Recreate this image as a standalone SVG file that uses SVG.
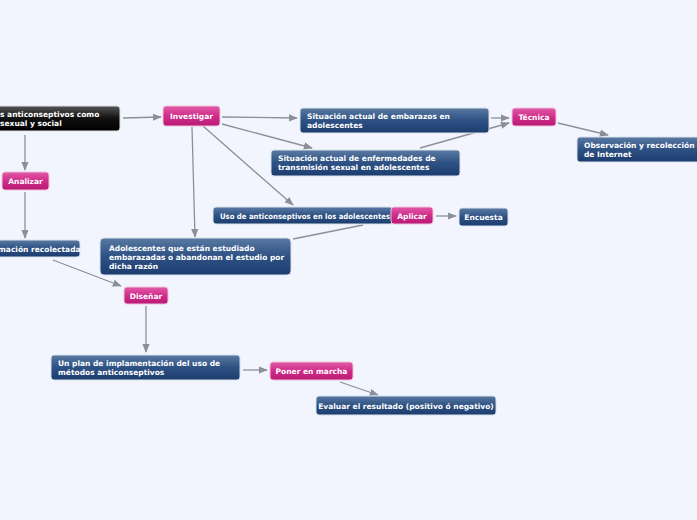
<svg xmlns="http://www.w3.org/2000/svg" width="697" height="520" viewBox="0 0 697 520">
<defs>
<linearGradient id="gb" x1="0" y1="0" x2="0" y2="1"><stop offset="0" stop-color="#5a7aa3"/><stop offset="0.5" stop-color="#2e5183"/><stop offset="1" stop-color="#1c3c6e"/></linearGradient>
<linearGradient id="gp" x1="0" y1="0" x2="0" y2="1"><stop offset="0" stop-color="#e25aa6"/><stop offset="0.5" stop-color="#d02c8a"/><stop offset="1" stop-color="#b81a74"/></linearGradient>
<linearGradient id="gk" x1="0" y1="0" x2="0" y2="1"><stop offset="0" stop-color="#555"/><stop offset="0.5" stop-color="#111"/><stop offset="1" stop-color="#000"/></linearGradient>
<marker id="a" viewBox="0 0 10 10" refX="9" refY="5" markerWidth="7" markerHeight="7" orient="auto"><path d="M0,1 L10,5 L0,9 z" fill="#8a8f99"/></marker>
</defs>
<style>
.b{fill:url(#gb);stroke:#d8e0ec;stroke-width:1}
.p{fill:url(#gp);stroke:#f0c0dc;stroke-width:1}
.k{fill:url(#gk);stroke:#ddd;stroke-width:1}
text{font-family:Verdana,"DejaVu Sans",sans-serif;font-size:7.5px;font-weight:bold;fill:#fff}
.c line{stroke:#8a8f99;stroke-width:1.3;marker-end:url(#a)}
</style>
<rect width="697" height="520" fill="#f3f5fe"/>
<g class="c">
<line x1="123" y1="118" x2="161" y2="117"/>
<line x1="222" y1="117" x2="297" y2="118"/>
<line x1="222" y1="124" x2="312" y2="148"/>
<line x1="203" y1="126" x2="293" y2="205"/>
<line x1="192" y1="127" x2="195" y2="237"/>
<line x1="491" y1="118" x2="509" y2="118"/>
<line x1="420" y1="148" x2="509" y2="123"/>
<line x1="558" y1="123" x2="608" y2="135"/>
<line x1="436" y1="216" x2="456" y2="216"/>
<line x1="25" y1="135" x2="25" y2="170"/>
<line x1="25" y1="192" x2="25" y2="238"/>
<line x1="53" y1="260" x2="121" y2="286"/>
<line x1="146" y1="306" x2="146" y2="352"/>
<line x1="243" y1="370" x2="267" y2="370"/>
<line x1="340" y1="382" x2="378" y2="395"/>
<line x1="293" y1="239" x2="363" y2="225" style="marker-end:none"/>
</g>
<g id="root"><rect class="k" x="-6" y="106" width="126" height="25" rx="3"/><text x="0" y="117">s anticonseptivos como</text><text x="0" y="126">sexual y social</text></g>
<g id="investigar"><rect class="p" x="163" y="106" width="57" height="20" rx="3"/><text x="191.5" y="119" text-anchor="middle">Investigar</text></g>
<g id="embarazos"><rect class="b" x="300" y="108" width="189" height="25" rx="3"/><text x="307" y="119">Situación actual de embarazos en</text><text x="307" y="128">adolescentes</text></g>
<g id="tecnica"><rect class="p" x="512" y="108" width="44" height="18" rx="3"/><text x="534" y="120" text-anchor="middle">Técnica</text></g>
<g id="observacion"><rect class="b" x="577" y="137" width="130" height="25" rx="3"/><text x="584" y="148">Observación y recolección de</text><text x="584" y="157">de Internet</text></g>
<g id="ets"><rect class="b" x="271" y="150" width="189" height="26" rx="3"/><text x="278" y="161">Situación actual de enfermedades de</text><text x="278" y="170">transmisión sexual en adolescentes</text></g>
<g id="uso"><rect class="b" x="213" y="207" width="180" height="17" rx="3"/><text x="220" y="218.5" textLength="170" lengthAdjust="spacingAndGlyphs">Uso de anticonseptivos en los adolescentes</text></g>
<g id="aplicar"><rect class="p" x="391" y="207" width="42" height="17" rx="3"/><text x="412" y="218.5" text-anchor="middle">Aplicar</text></g>
<g id="encuesta"><rect class="b" x="459" y="208" width="49" height="18" rx="3"/><text x="483.5" y="220" text-anchor="middle">Encuesta</text></g>
<g id="adolescentes"><rect class="b" x="100" y="238" width="191" height="37" rx="4"/><text x="109" y="251">Adolescentes que están estudiado</text><text x="109" y="260">embarazadas o abandonan el estudio por</text><text x="109" y="269">dicha razón</text></g>
<g id="analizar"><rect class="p" x="2" y="172" width="47" height="18" rx="3"/><text x="25.5" y="184" text-anchor="middle">Analizar</text></g>
<g id="info"><rect class="b" x="-6" y="240" width="86" height="17" rx="3"/><text x="-2" y="251.5">mación recolectada</text></g>
<g id="disenar"><rect class="p" x="124" y="287" width="44" height="17" rx="3"/><text x="146" y="298.5" text-anchor="middle">Diseñar</text></g>
<g id="plan"><rect class="b" x="51" y="355" width="189" height="25" rx="3"/><text x="58" y="366">Un plan de implamentación del uso de</text><text x="58" y="375">métodos anticonseptivos</text></g>
<g id="poner"><rect class="p" x="270" y="362" width="83" height="18" rx="3"/><text x="311.5" y="374" text-anchor="middle">Poner en marcha</text></g>
<g id="evaluar"><rect class="b" x="316" y="396" width="180" height="19" rx="3"/><text x="406" y="408.5" text-anchor="middle">Evaluar el resultado (positivo ó negativo)</text></g>
</svg>
